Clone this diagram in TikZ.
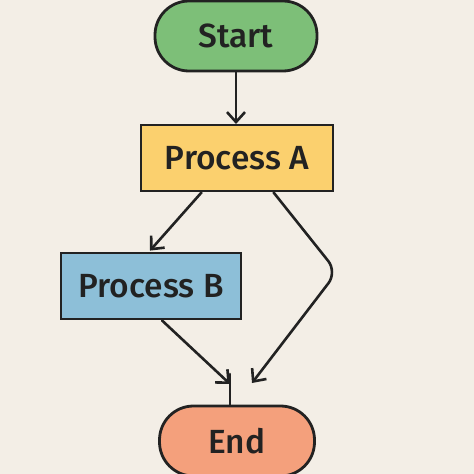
\documentclass[tikz,border=0pt]{standalone}
\usepackage{fontspec}
\setmainfont{Fira Sans}[UprightFont=* Medium, BoldFont=* SemiBold]
\usetikzlibrary{arrows.meta,calc}
\definecolor{bg}{HTML}{F3EEE6}
\definecolor{ink}{HTML}{222222}
\definecolor{cstart}{HTML}{7DBF78}
\definecolor{cA}{HTML}{FBD06E}
\definecolor{cB}{HTML}{8DBFD8}
\definecolor{cend}{HTML}{F4A07C}
\tikzset{
  box/.style={draw=ink, line width=2.8pt, text=ink, font=\fontsize{33.5}{38}\selectfont, inner sep=0pt},
  pill/.style={box, rounded corners=34pt},
  conn/.style={draw=ink, line width=2.6pt, line cap=round, line join=round},
  arr/.style={conn, -{Straight Barb[length=10pt,width=18pt,line width=2.6pt]}}
}
\begin{document}
\begin{tikzpicture}[x=1pt,y=-1pt]
\fill[bg] (0,0) rectangle (474,474);
\useasboundingbox (0,0) rectangle (474,474);
\node[pill, fill=cstart, minimum width=162pt, minimum height=70pt] (S) at (236,36) {Start};
\node[box, fill=cA, minimum width=192pt, minimum height=66pt] (A) at (237,158) {Process A};
\node[box, fill=cB, minimum width=180pt, minimum height=66pt] (B) at (151,286) {Process B};
\node[pill, fill=cend, minimum width=155pt, minimum height=70pt] (E) at (237,441) {End};
\coordinate (m) at (230,384);
\coordinate (m2) at (252,383);
\coordinate (bend) at (337,272);
\coordinate (jt) at (230,374);
\draw[arr] (S.south -| 236,0) -- (236,124);
\draw[arr] ($(A.south west)!0.318!(A.south east)$) -- ($(B.north)+(-1,-1)$);
\draw[arr] ($(A.south west)!0.6875!(A.south east)$) [rounded corners=14pt] -- (bend) -- (m2);
\draw[arr] ($(B.south west)!0.56!(B.south east)$) -- (m);
\draw[conn] (jt) -- (jt |- E.north);
\end{tikzpicture}
\end{document}
